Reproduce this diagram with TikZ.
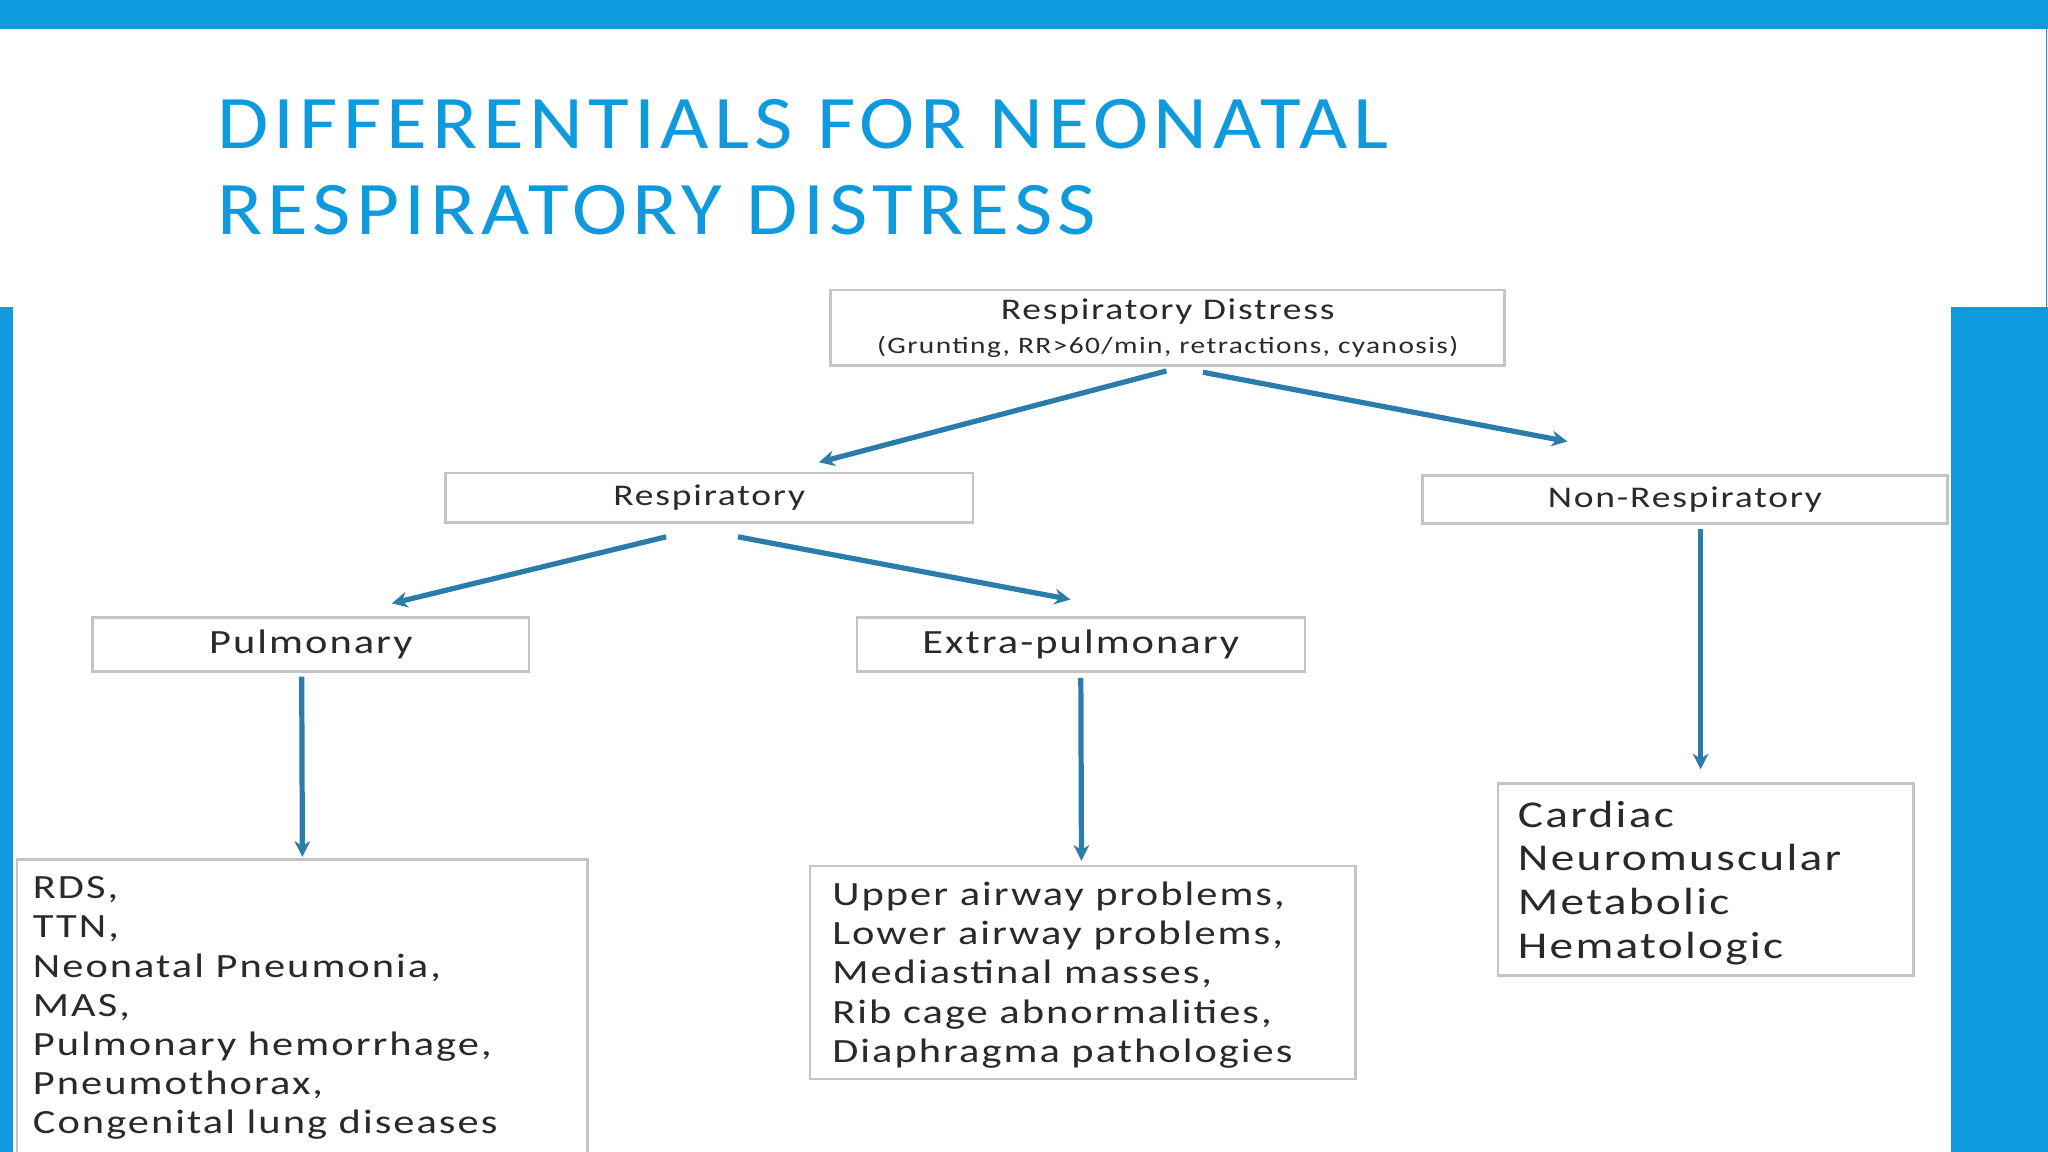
\documentclass[tikz,border=0pt]{standalone}
\usepackage{fontspec}
\setmainfont{Carlito}
\newfontfamily\titlefont[LetterSpace=7,FakeStretch=1.1]{Carlito}
\newfontfamily\boxfont[LetterSpace=6,FakeStretch=1.25]{Carlito}
\usetikzlibrary{arrows.meta}
\definecolor{accent}{HTML}{0E9ADC}
\definecolor{arrowc}{HTML}{2A7DAA}
\definecolor{boxc}{HTML}{C4C4C4}
\definecolor{txt}{HTML}{2A2A2A}
\tikzset{
  box/.style={draw=boxc,line width=2pt,fill=white,inner sep=0pt,text=txt},
  arr/.style={draw=arrowc,line width=4pt,-{Stealth[length=12pt,width=12pt]}},
  listtxt/.style={anchor=north west,align=left,text=txt,font=\boxfont\fontsize{26}{30}\selectfont,inner sep=0pt}
}
\begin{document}
\begin{tikzpicture}[x=1pt,y=-1pt]
\useasboundingbox (0,0) rectangle (1568,882);
\fill[white] (0,0) rectangle (1568,882);
\fill[accent] (0,0) rectangle (1568,22);
\fill[accent] (0,235) rectangle (10,882);
\fill[accent] (1494,235) rectangle (1568,882);
\draw[accent,line width=1pt] (1567,22) -- (1567,235);
\node[anchor=west,text=accent,font=\titlefont\fontsize{58}{66}\selectfont,align=left,inner sep=0pt] (title) at (166,128) {DIFFERENTIALS FOR NEONATAL\\RESPIRATORY DISTRESS};

\node[box,minimum width=516,minimum height=58,align=center,font=\boxfont\fontsize{23}{26}\selectfont] (top) at (894,251) {Respiratory Distress\\{\fontsize{18}{20}\selectfont (Grunting, RR>60/min, retractions, cyanosis)}};
\node[box,minimum width=404,minimum height=38,font=\boxfont\fontsize{23}{26}\selectfont] (resp) at (543,381) {Respiratory};
\node[box,minimum width=402,minimum height=37,font=\boxfont\fontsize{23}{26}\selectfont] (nonresp) at (1290,382.5) {Non-Respiratory};
\node[box,minimum width=334,minimum height=41,font=\boxfont\fontsize{26}{30}\selectfont] (pulm) at (238,493.5) {Pulmonary};
\node[box,minimum width=343,minimum height=41,font=\boxfont\fontsize{26}{30}\selectfont] (extra) at (827.5,493.5) {Extra-pulmonary};
\node[box,minimum width=437,minimum height=232] (lbox) at (231.5,774) {};
\node[box,minimum width=418,minimum height=163] (mbox) at (829,744.5) {};
\node[box,minimum width=318,minimum height=147] (rbox) at (1306,673.5) {};

\node[listtxt] (ltext) at (25,671) {RDS,\\TTN,\\Neonatal Pneumonia,\\MAS,\\Pulmonary hemorrhage,\\Pneumothorax,\\Congenital lung diseases};
\node[listtxt] (mtext) at (637,675) {Upper airway problems,\\Lower airway problems,\\Mediastinal masses,\\Rib cage abnormalities,\\Diaphragma pathologies};
\node[listtxt,font=\boxfont\fontsize{29}{33.5}\selectfont] (rtext) at (1162,613) {Cardiac\\Neuromuscular\\Metabolic\\Hematologic};

\draw[arr] ([xshift=-1pt,yshift=-3pt]top.south) -- ([xshift=84pt,yshift=7pt]resp.north);
\draw[arr] ([xshift=27pt,yshift=-4pt]top.south) -- ([xshift=-90pt,yshift=25pt]nonresp.north);
\draw[arr] ([xshift=-33pt,yshift=-10pt]resp.south) -- ([xshift=62pt,yshift=10pt]pulm.north);
\draw[arr] ([xshift=22pt,yshift=-10pt]resp.south) -- ([xshift=-8pt,yshift=13pt]extra.north);
\draw[arr] ([xshift=-7pt,yshift=-3pt]pulm.south) -- ([yshift=1pt]lbox.north);
\draw[arr] ([yshift=-4pt]extra.south) -- ([xshift=-1pt,yshift=3pt]mbox.north);
\draw[arr] ([xshift=12pt,yshift=-3pt]nonresp.south) -- ([xshift=-4pt,yshift=10pt]rbox.north);
\end{tikzpicture}
\end{document}
